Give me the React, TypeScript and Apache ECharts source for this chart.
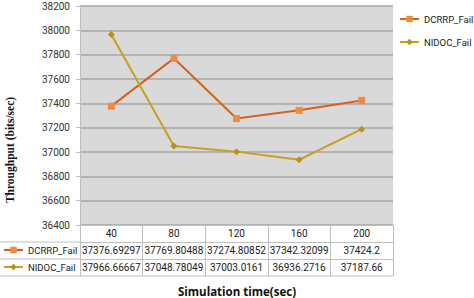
import React, { useEffect, useRef } from "react";
import * as echarts from "echarts";

const categories = ["40", "80", "120", "160", "200"];
const seriesNames = ["DCRRP_Fail", "NIDOC_Fail"];
const dcrrp = [37376.69297, 37769.80488, 37274.80852, 37342.32099, 37424.2];
const nidoc = [37966.66667, 37048.78049, 37003.0161, 36936.2716, 37187.66];
const yMin = 36400;
const yMax = 38200;
const yStep = 200;
const yTitle = "Throughput (bits/sec)";
const xTitle = "Simulation time(sec)";

const FONT = "Roboto, 'Open Sans', sans-serif";
const TABLE_LINE = "#BFBFBF";
const ROW_H = 17;

const tableAxis = (data: string[], offset: number) => ({
  type: "category",
  gridIndex: 0,
  position: "bottom",
  offset,
  data,
  boundaryGap: true,
  axisLine: { show: true, lineStyle: { color: TABLE_LINE, width: 1 } },
  axisTick: { show: true, length: ROW_H, lineStyle: { color: TABLE_LINE, width: 1 } },
  axisLabel: { margin: 3, fontSize: 10, color: "#222", fontFamily: FONT, interval: 0 },
  splitLine: { show: false },
});

export default function App() {
  const ref = useRef<HTMLDivElement>(null);
  useEffect(() => {
    if (!ref.current) return;
    const chart = echarts.init(ref.current, undefined, { renderer: "svg" });
    const legendText = { fontSize: 9.5, color: "#222", fontFamily: FONT };
    chart.setOption({
      animation: false,
      backgroundColor: "#ffffff",
      grid: {
        left: 80,
        right: 81,
        top: 6,
        bottom: 73,
        show: true,
        backgroundColor: "#D9D9D9",
        borderWidth: 0,
      },
      legend: [
        {
          data: seriesNames,
          orient: "vertical",
          left: 399,
          top: 14,
          padding: 0,
          itemGap: 13,
          itemWidth: 19,
          itemHeight: 8,
          textStyle: legendText,
        },
        {
          data: seriesNames,
          orient: "vertical",
          left: 3,
          top: 245,
          padding: 0,
          itemGap: 7,
          itemWidth: 19,
          itemHeight: 8,
          textStyle: legendText,
        },
      ],
      xAxis: [
        tableAxis(categories, 0),
        tableAxis(dcrrp.map((v) => String(v)), ROW_H),
        tableAxis(nidoc.map((v) => String(v)), ROW_H * 2),
      ],
      yAxis: {
        type: "value",
        min: yMin,
        max: yMax,
        interval: yStep,
        axisLine: { show: true, lineStyle: { color: TABLE_LINE } },
        axisTick: { show: true, length: 4, lineStyle: { color: TABLE_LINE } },
        axisLabel: {
          margin: 10,
          fontSize: 10,
          color: "#333",
          fontFamily: FONT,
          formatter: (v: number) => String(v),
        },
        splitLine: { show: true, lineStyle: { color: "#A6A6A6", width: 1.5 } },
      },
      series: [
        {
          name: seriesNames[0],
          type: "line",
          xAxisIndex: 0,
          data: dcrrp,
          symbol: "rect",
          symbolSize: 7,
          lineStyle: { color: "#D5621F", width: 2 },
          itemStyle: { color: "#F08A3E", borderWidth: 0 },
        },
        {
          name: seriesNames[1],
          type: "line",
          xAxisIndex: 0,
          data: nidoc,
          symbol: "diamond",
          symbolSize: 7,
          lineStyle: { color: "#C9A024", width: 2 },
          itemStyle: { color: "#B8921A", borderWidth: 0 },
        },
      ],
      graphic: [
        { type: "line", shape: { x1: 0, y1: 242, x2: 80, y2: 242 }, style: { stroke: TABLE_LINE, lineWidth: 1 } },
        { type: "line", shape: { x1: 0, y1: 259, x2: 80, y2: 259 }, style: { stroke: TABLE_LINE, lineWidth: 1 } },
        { type: "line", shape: { x1: 0, y1: 276, x2: 393, y2: 276 }, style: { stroke: TABLE_LINE, lineWidth: 1 } },
        {
          type: "text",
          x: 10,
          y: 150,
          rotation: Math.PI / 2,
          style: {
            text: yTitle,
            font: "bold 11.5px 'Liberation Serif', 'Times New Roman', serif",
            fill: "#111",
            align: "center",
            verticalAlign: "middle",
          },
        },
        {
          type: "text",
          x: 237,
          y: 291,
          style: {
            text: xTitle,
            font: "bold 11.5px 'Open Sans', sans-serif",
            fill: "#111",
            align: "center",
            verticalAlign: "middle",
          },
        },
      ],
    });
    return () => chart.dispose();
  }, []);
  return (
    <div
      ref={ref}
      style={{ position: "absolute", left: 0, top: 0, width: 474, height: 298 }}
    />
  );
}
